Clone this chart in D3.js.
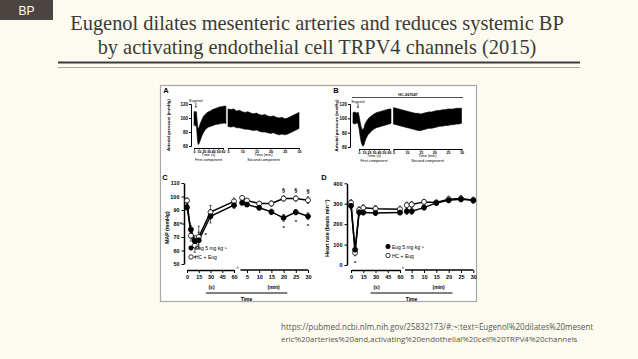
<!DOCTYPE html>
<html><head><meta charset="utf-8">
<script src="https://cdn.jsdelivr.net/npm/d3@7"></script>
<style>html,body{margin:0;padding:0;background:#fdfbef}svg{display:block}</style>
</head><body>
<svg id="c" width="638" height="359"></svg>
<script>
// ---------- text content ----------
const tagLabel = "BP";
const titleLines = ["Eugenol dilates mesenteric arteries and reduces systemic BP",
                    "by activating endothelial cell TRPV4 channels (2015)"];
const urlLines = ["https://pubmed.ncbi.nlm.nih.gov/25832173/#:~:text=Eugenol%20dilates%20mesent",
                  "eric%20arteries%20and,activating%20endothelial%20cell%20TRPV4%20channels"];

// ---------- Panel A : arterial pressure trace (envelope) ----------
const aFirstT  = [0,2,4,5,6,7,8,9,10,12,14,16,18,20,23,26,30,34,38,42,46,50,54,58,62,66];
const aFirstHi = [108,110,107,109,100,92,86,84,86,90,94,97,100,103,105,107,109,110,112,113,114,115,116,116,117,117];
const aFirstLo = [89,91,88,90,80,70,64,62,63,66,70,74,77,80,83,85,87,88,89,90,91,91,92,92,93,92];
const aSecT  = [5,6,7,8,9,10,11,12,13,14,15,16,17,18,19,20,21,22,23,24,25,26,27,28,29,30];
const aSecHi = [113,112,113,110,111,109,108,109,107,106,107,105,104,105,103,102,103,101,100,101,99,100,102,104,106,108];
const aSecLo = [88,87,88,86,86,85,84,84,83,82,83,81,80,80,79,78,79,77,76,77,76,77,79,81,83,85];

// ---------- Panel B ----------
const bFirstT  = [-12,-8,-4,-2,0,2,4,6,8,10,12,15,18,22,26,30,35,40,45,50,55,60,64];
const bFirstHi = [108,109,107,109,104,96,89,85,84,87,92,96,99,102,104,106,108,109,110,111,112,113,113];
const bFirstLo = [93,92,94,92,86,76,68,63,61,63,68,73,77,80,83,85,87,88,89,90,91,92,93];
const bSecT  = [5,6,7,8,9,10,11,12,13,14,15,16,17,18,19,20,21,22,23,24,25,26,27,28,29,30];
const bSecHi = [115,114,113,112,111,110,109,108,107,107,106,107,108,109,109,110,111,111,112,112,113,113,113,114,114,114];
const bSecLo = [92,91,90,89,88,87,86,85,84,83,83,84,85,86,86,87,88,89,89,90,90,91,91,92,92,93];

const pressureTicks = [60,80,100,120];
const firstCompTicks = [0,10,20,30,40,50,60];
const secondCompTicks = [5,10,15,20,25,30];

// ---------- Panel C : MAP ----------
const secTimes = [0,5,10,15,30,60];
const minTimes = [3,5,10,15,20,25,30];
const cEugSec    = [92,75.5,67,67.6,85.4,93.6];
const cEugSecErr = [2,3,4,6,5,2.5];
const cHcSec     = [97,71,63.7,70,88.4,96.4];
const cHcSecErr  = [2,4,5,8,5,2.5];
const cEugMin    = [95.3,94,91.6,88.6,84.2,88.4,85.4];
const cEugMinErr = [1.5,1.5,1.5,2,2.5,2,2.5];
const cHcMin     = [99,97,94.8,94.8,98.5,98.5,97.3];
const cHcMinErr  = [1,1.5,1.5,2,2,2,2.5];
const mapTicks = [50,60,70,80,90,100,110];

// ---------- Panel D : heart rate ----------
const dEugSec    = [290,75,258,257,255,257];
const dEugSecErr = [15,15,15,12,12,12];
const dHcSec     = [305,60,270,280,276,273];
const dHcSecErr  = [15,15,15,15,15,15];
const dEugMin    = [263,263,281,304,317,322,317];
const dEugMinErr = [15,15,12,12,12,12,12];
const dHcMin     = [293,296,309,306,322,325,317];
const dHcMinErr  = [15,15,12,12,15,15,15];
const hrTicks = [0,100,200,300,400];
const secTicks = [0,15,30,45,60];

const legendLabels = ["Eug 5 mg kg\u207B\u00B9","HC + Eug"];

// ================= drawing =================
const svg = d3.select("#c");
svg.append("rect").attr("width",638).attr("height",359).attr("fill","#fdfbef");

// tag box
svg.append("rect").attr("x",0).attr("y",0).attr("width",53).attr("height",20).attr("fill","#4b4541");
svg.append("text").attr("x",26.5).attr("y",14.5).attr("text-anchor","middle").attr("fill","#fff")
  .attr("font-family","'Liberation Sans Narrow','Liberation Sans',sans-serif").attr("font-size",12).text(tagLabel);

// title
const titleTargets = [494, 439];
titleLines.forEach((s,i)=>{
  const t = svg.append("text").attr("x",317).attr("y",30+i*24).attr("text-anchor","middle")
    .attr("fill","#3a3a3a").attr("font-family","'Liberation Serif','DejaVu Serif',serif")
    .attr("font-size",20).text(s);
  const w = t.node().getComputedTextLength();
  t.attr("font-size", 20*titleTargets[i]/w);
});
svg.append("line").attr("x1",58).attr("x2",580).attr("y1",62.5).attr("y2",62.5).attr("stroke","#3a3a3a").attr("stroke-width",2);
svg.append("line").attr("x1",58).attr("x2",580).attr("y1",67.5).attr("y2",67.5).attr("stroke","#a9a7a0").attr("stroke-width",1);

// url
const urlTargets = [313, 297];
urlLines.forEach((s,i)=>{
  const t = svg.append("text").attr("x",281).attr("y",330+i*12).attr("fill","#555")
    .attr("font-family","'Open Sans','Noto Sans',sans-serif").attr("font-size",8.5).text(s);
  const w = t.node().getComputedTextLength();
  t.attr("font-size", 8.5*urlTargets[i]/w);
});

// figure box
svg.append("rect").attr("x",160.5).attr("y",85.5).attr("width",316).attr("height",216)
  .attr("fill","#fff").attr("stroke","#a8a8a8").attr("stroke-width",1.2);

const FF = "'Liberation Sans',Arial,sans-serif";
const fig = svg.append("g").attr("font-family",FF).attr("fill","#000");

function label(x,y,txt,size,opts={}){
  const t = fig.append("text").attr("x",x).attr("y",y).attr("font-size",size)
    .attr("font-weight",opts.bold===false?"normal":"bold")
    .attr("text-anchor",opts.anchor||"middle").attr("dominant-baseline","central").text(txt);
  if(opts.rotate) t.attr("transform",`rotate(-90,${x},${y})`);
  return t;
}
function styleAxis(g,fs){
  g.selectAll("path,line").attr("stroke","#000").attr("stroke-width",1);
  g.selectAll("text").attr("font-size",fs).attr("font-weight","bold").attr("font-family",FF);
}

// ---------- trace panels ----------
function tracePanel(cfg){
  const y = d3.scaleLinear([60,120],cfg.yRange);
  const x1 = d3.scaleLinear([0,60],cfg.x1Range);
  const x2 = d3.scaleLinear([5,30],cfg.x2Range);
  const area1 = d3.area().x(d=>x1(d[0])).y0(d=>y(d[2])).y1(d=>y(d[1]));
  const area2 = d3.area().x(d=>x2(d[0])).y0(d=>y(d[2])).y1(d=>y(d[1]));
  fig.append("path").datum(d3.zip(cfg.t1,cfg.hi1,cfg.lo1)).attr("d",area1).attr("fill","#000").attr("stroke","#000").attr("stroke-width",0.6);
  fig.append("path").datum(d3.zip(cfg.t2,cfg.hi2,cfg.lo2)).attr("d",area2).attr("fill","#000").attr("stroke","#000").attr("stroke-width",0.6);
  const ya = fig.append("g").attr("transform",`translate(${cfg.yAxisX},0)`)
    .call(d3.axisLeft(y).tickValues(pressureTicks).tickSize(2).tickPadding(1));
  styleAxis(ya,4.5);
  const xa1 = fig.append("g").attr("transform",`translate(0,${cfg.xAxisY})`)
    .call(d3.axisBottom(x1).tickValues(firstCompTicks).tickSize(1.5).tickPadding(0.5));
  styleAxis(xa1,3.6);
  const xa2 = fig.append("g").attr("transform",`translate(0,${cfg.xAxisY})`)
    .call(d3.axisBottom(x2).tickValues(secondCompTicks).tickSize(1.5).tickPadding(0.5));
  styleAxis(xa2,3.6);
  label(cfg.labelX,cfg.labelY,cfg.letter,7.5);
  label(cfg.yLabelX,y(90),"Arterial pressure (mmHg)",4.3,{rotate:true});
  const m1 = (x1(0)+x1(60))/2, m2 = (x2(5)+x2(30))/2;
  label(m1,cfg.xAxisY+7,"Time (s)",3.8,{bold:false});
  label(m1,cfg.xAxisY+12,"First component",3.8,{bold:false});
  label(m2,cfg.xAxisY+7,"Time (min)",3.8,{bold:false});
  label(m2,cfg.xAxisY+12,"Second component",3.8,{bold:false});
  // eugenol marker
  const ex = x1(cfg.eugT);
  label(ex,cfg.eugY,"Eugenol",3.6,{bold:false});
  fig.append("line").attr("x1",ex).attr("x2",ex).attr("y1",cfg.eugY+2).attr("y2",cfg.eugY+6).attr("stroke","#000").attr("stroke-width",0.6);
  fig.append("path").attr("d",`M${ex-1},${cfg.eugY+5}L${ex},${cfg.eugY+6.5}L${ex+1},${cfg.eugY+5}`).attr("fill","none").attr("stroke","#000").attr("stroke-width",0.5);
  return {x1,x2,y};
}

tracePanel({yRange:[146,104],x1Range:[194,223],x2Range:[228,299],
  t1:aFirstT,hi1:aFirstHi,lo1:aFirstLo,t2:aSecT,hi2:aSecHi,lo2:aSecLo,
  yAxisX:191,xAxisY:148,letter:"A",labelX:166,labelY:90,yLabelX:168,eugT:4,eugY:101});
const pB = tracePanel({yRange:[147,104],x1Range:[359,389],x2Range:[393.5,461.5],
  t1:bFirstT,hi1:bFirstHi,lo1:bFirstLo,t2:bSecT,hi2:bSecHi,lo2:bSecLo,
  yAxisX:350,xAxisY:149,letter:"B",labelX:336,labelY:90,yLabelX:336,eugT:-2,eugY:101.5});
// HC-067047 bar
fig.append("line").attr("x1",352).attr("x2",463).attr("y1",97.5).attr("y2",97.5).attr("stroke","#000").attr("stroke-width",0.7);
label(408,94.5,"HC-067047",3.8);

// ---------- summary panels ----------
function summaryPanel(cfg){
  const y = d3.scaleLinear(cfg.yDomain,cfg.yRange);
  const x1 = d3.scaleLinear([0,60],cfg.x1Range);
  const x2 = d3.scaleLinear([5,30],cfg.x2Range);
  const ya = fig.append("g").attr("transform",`translate(${cfg.yAxisX},0)`)
    .call(d3.axisLeft(y).tickValues(cfg.yTicks).tickSize(2.5).tickPadding(2).tickSizeOuter(0));
  styleAxis(ya,5.5); ya.select(".domain").attr("stroke-width",1.5);
  const xa1 = fig.append("g").attr("transform",`translate(0,${cfg.xAxisY})`)
    .call(d3.axisBottom(x1).tickValues(secTicks).tickSize(3).tickPadding(2.5).tickSizeOuter(0));
  styleAxis(xa1,5.5); xa1.select(".domain").attr("stroke-width",1.5);
  const x2d = d3.scaleLinear([2,30],[x2(2),x2(30)]);
  const xa2 = fig.append("g").attr("transform",`translate(0,${cfg.xAxisY})`)
    .call(d3.axisBottom(x2).tickValues(secondCompTicks).tickSize(3).tickPadding(2.5).tickSizeOuter(0));
  styleAxis(xa2,5.5); xa2.select(".domain").attr("d",`M${x2(2.3)},0H${x2(30)}`).attr("stroke-width",1.5);
  // break mark
  const bx = (x1(60)+x2(2.3))/2;
  label(bx,cfg.xAxisY-2.5,"\u2248",5,{bold:false}).attr("transform",`rotate(-70,${bx},${cfg.xAxisY-2.5})`);
  label(cfg.labelX,cfg.labelY,cfg.letter,7.5);
  label(cfg.yLabelX,(cfg.yRange[0]+cfg.yRange[1])/2+4,cfg.yLabel,5.2,{rotate:true});
  // x labels
  label((x1(15)+x1(45))/2+1,cfg.xAxisY+17,"(s)",5);
  label(x2(20)-10,cfg.xAxisY+17,"(min)",5);
  fig.append("line").attr("x1",x1(24)).attr("x2",x2(21.5)).attr("y1",cfg.xAxisY+23).attr("y2",cfg.xAxisY+23).attr("stroke","#000").attr("stroke-width",1);
  label((x1(24)+x2(21.5))/2,cfg.xAxisY+28.5,"Time",5);

  const series = [
    {sec:cfg.eugSec,secE:cfg.eugSecErr,min:cfg.eugMin,minE:cfg.eugMinErr,fill:"#000"},
    {sec:cfg.hcSec,secE:cfg.hcSecErr,min:cfg.hcMin,minE:cfg.hcMinErr,fill:"#fff"}
  ];
  const line = d3.line().x(d=>d[0]).y(d=>d[1]);
  // draw open series first, then filled on top? Draw errors, lines, markers
  series.forEach(s=>{
    const pts1 = secTimes.map((t,i)=>[x1(t),y(s.sec[i]),y(s.sec[i]+s.secE[i]),y(s.sec[i]-s.secE[i])]);
    const pts2 = minTimes.map((t,i)=>[x2(t),y(s.min[i]),y(s.min[i]+s.minE[i]),y(s.min[i]-s.minE[i])]);
    [pts1,pts2].forEach(pts=>{
      pts.forEach(p=>{
        fig.append("line").attr("x1",p[0]).attr("x2",p[0]).attr("y1",p[2]).attr("y2",p[3]).attr("stroke","#000").attr("stroke-width",0.6);
        fig.append("line").attr("x1",p[0]-1.2).attr("x2",p[0]+1.2).attr("y1",p[2]).attr("y2",p[2]).attr("stroke","#000").attr("stroke-width",0.6);
        fig.append("line").attr("x1",p[0]-1.2).attr("x2",p[0]+1.2).attr("y1",p[3]).attr("y2",p[3]).attr("stroke","#000").attr("stroke-width",0.6);
      });
      fig.append("path").attr("d",line(pts)).attr("fill","none").attr("stroke","#000").attr("stroke-width",1.5);
    });
    s.pts = pts1.concat(pts2);
  });
  series.slice().reverse().forEach(s=>{
    s.pts.forEach(p=>fig.append("circle").attr("cx",p[0]).attr("cy",p[1]).attr("r",2.5)
      .attr("fill",s.fill).attr("stroke","#000").attr("stroke-width",0.8));
  });
  // legend
  legendLabels.forEach((l,i)=>{
    const ly = cfg.legY + i*9;
    fig.append("circle").attr("cx",cfg.legX).attr("cy",ly).attr("r",2.2)
      .attr("fill",i===0?"#000":"#fff").attr("stroke","#000").attr("stroke-width",0.8);
    label(cfg.legX+4,ly,l,5,{anchor:"start",bold:false});
  });
  return {x1,x2,y};
}

const pC = summaryPanel({yDomain:[50,110],yRange:[264,183],yTicks:mapTicks,x1Range:[187,234],x2Range:[247,308],
  yAxisX:184,xAxisY:270,letter:"C",labelX:165,labelY:177,yLabelX:167,yLabel:"MAP (mmHg)",
  eugSec:cEugSec,eugSecErr:cEugSecErr,eugMin:cEugMin,eugMinErr:cEugMinErr,
  hcSec:cHcSec,hcSecErr:cHcSecErr,hcMin:cHcMin,hcMinErr:cHcMinErr,legX:191,legY:248});
// significance marks C
[[2,"*",17],[1,"*",-2]].forEach(()=>{});
label(pC.x1(10),pC.y(cEugSec[2])+17,"*",6);
label(pC.x1(5)-10,pC.y(cEugSec[1])-6,"*",6);
label(pC.x1(15)+7,pC.y(cEugSec[3])-5,"*",6);
[20,25,30].forEach(t=>{
  const i = minTimes.indexOf(t);
  label(pC.x2(t),pC.y(cEugMin[i])+10,"*",6);
  label(pC.x2(t),pC.y(cHcMin[i])-9,"\u00A7",5.5);
});

const pD = summaryPanel({yDomain:[0,400],yRange:[265,183.3],yTicks:hrTicks,x1Range:[351,400],x2Range:[411.7,473.3],
  yAxisX:347,xAxisY:270,letter:"D",labelX:324,labelY:177,yLabelX:327,yLabel:"Heart rate (beats min\u207B\u00B9)",
  eugSec:dEugSec,eugSecErr:dEugSecErr,eugMin:dEugMin,eugMinErr:dEugMinErr,
  hcSec:dHcSec,hcSecErr:dHcSecErr,hcMin:dHcMin,hcMinErr:dHcMinErr,legX:388,legY:246.5});
label(pD.x1(5),pD.y(dHcSec[1])+10,"*",6);
</script>
</body></html>
